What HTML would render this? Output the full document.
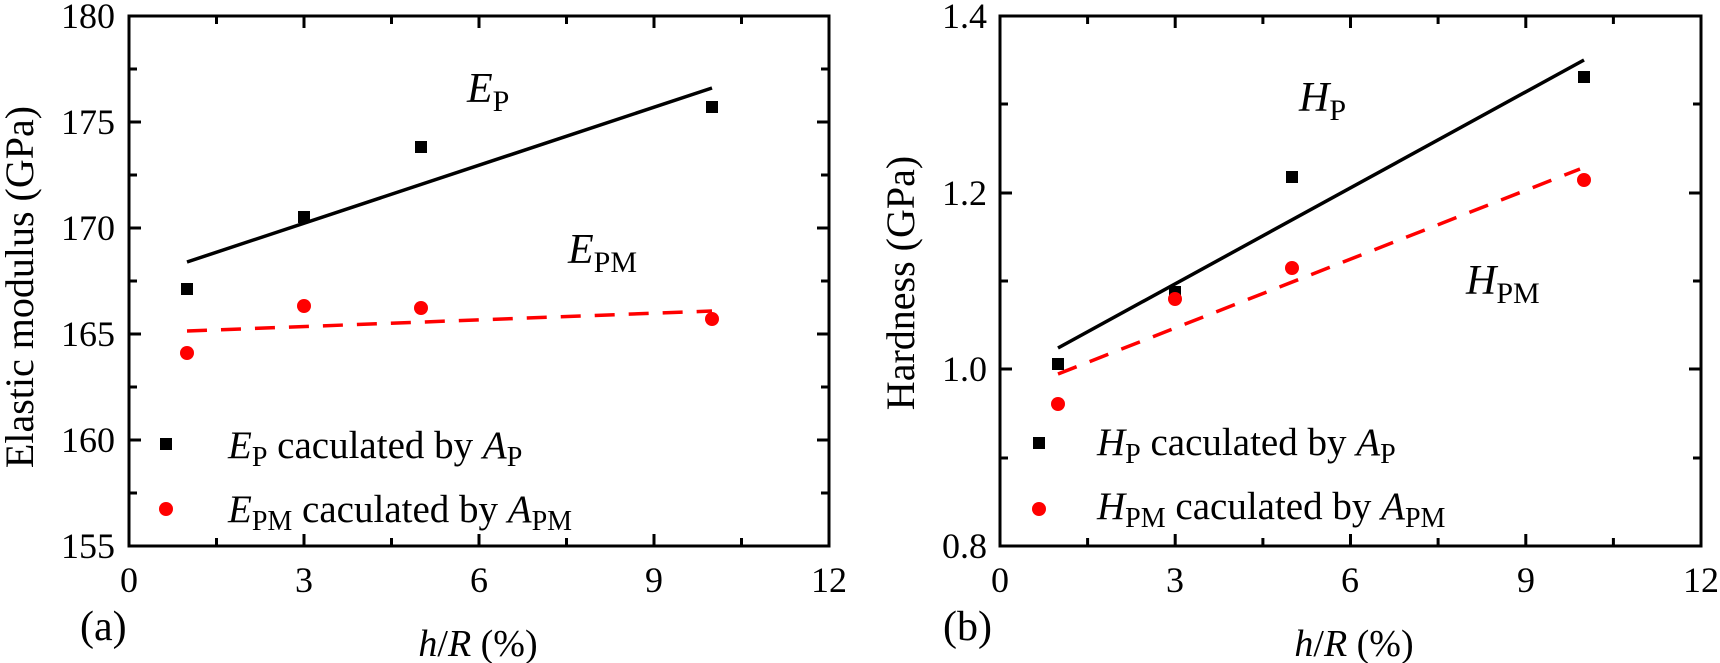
<!DOCTYPE html>
<html><head><meta charset="utf-8"><style>
html,body{margin:0;padding:0;background:#fff}
svg{display:block}
svg text{font-family:"Liberation Serif","Times New Roman",Times,"DejaVu Serif",serif;fill:#000}
</style></head><body>
<svg width="1720" height="663" viewBox="0 0 1720 663" xmlns="http://www.w3.org/2000/svg" font-family="Liberation Serif, Times New Roman, serif">
<!-- ===== Left panel ===== -->
<g stroke="#000" stroke-width="3" fill="none">
<rect x="129" y="16" width="700" height="530"/>
<path d="M216.5 546v-8 M304 546v-12 M391.5 546v-8 M479 546v-12 M566.5 546v-8 M654 546v-12 M741.5 546v-8
M216.5 16v8 M304 16v12 M391.5 16v8 M479 16v12 M566.5 16v8 M654 16v12 M741.5 16v8"/>
<path d="M129 69h8 M129 122h12 M129 175h8 M129 228h12 M129 281h8 M129 334h12 M129 387h8 M129 440h12 M129 493h8
M829 69h-8 M829 122h-12 M829 175h-8 M829 228h-12 M829 281h-8 M829 334h-12 M829 387h-8 M829 440h-12 M829 493h-8"/>
</g>
<line x1="187" y1="262" x2="712" y2="88" stroke="#000" stroke-width="3.5"/>
<line x1="187" y1="331" x2="712" y2="311" stroke="#f00" stroke-width="3.5" stroke-dasharray="20,14"/>
<g fill="#000">
<rect x="181" y="283" width="12" height="12"/><rect x="298" y="211" width="12" height="12"/>
<rect x="415" y="141" width="12" height="12"/><rect x="706" y="101" width="12" height="12"/>
<rect x="160" y="438" width="12" height="12"/>
</g>
<g fill="#f00">
<circle cx="187" cy="353" r="7"/><circle cx="304" cy="306" r="7"/><circle cx="421" cy="308" r="7"/><circle cx="712" cy="319" r="7"/>
<circle cx="166" cy="509" r="7"/>
</g>
<g font-size="36">
<text x="115" y="28" text-anchor="end">180</text>
<text x="115" y="134" text-anchor="end">175</text>
<text x="115" y="240" text-anchor="end">170</text>
<text x="115" y="346" text-anchor="end">165</text>
<text x="115" y="452" text-anchor="end">160</text>
<text x="115" y="558" text-anchor="end">155</text>
<text x="129" y="592" text-anchor="middle">0</text>
<text x="304" y="592" text-anchor="middle">3</text>
<text x="479" y="592" text-anchor="middle">6</text>
<text x="654" y="592" text-anchor="middle">9</text>
<text x="829" y="592" text-anchor="middle">12</text>
</g>
<text font-size="40" transform="translate(33,287) rotate(-90)" text-anchor="middle">Elastic modulus (GPa)</text>
<text x="80" y="640" font-size="42">(a)</text>
<text x="478" y="656" font-size="38" text-anchor="middle"><tspan font-style="italic">h</tspan>/<tspan font-style="italic">R</tspan> (%)</text>
<text x="467" y="102" font-size="42"><tspan font-style="italic">E</tspan><tspan font-size="30" dy="9">P</tspan></text>
<text x="568" y="263" font-size="42"><tspan font-style="italic">E</tspan><tspan font-size="30" dy="9">PM</tspan></text>
<text x="228" y="458" font-size="39"><tspan font-style="italic">E</tspan><tspan font-size="28" dy="8">P</tspan><tspan dy="-8"> caculated by </tspan><tspan font-style="italic">A</tspan><tspan font-size="28" dy="8">P</tspan></text>
<text x="228" y="522" font-size="39"><tspan font-style="italic">E</tspan><tspan font-size="28" dy="8">PM</tspan><tspan dy="-8"> caculated by </tspan><tspan font-style="italic">A</tspan><tspan font-size="28" dy="8">PM</tspan></text>

<!-- ===== Right panel ===== -->
<g stroke="#000" stroke-width="3" fill="none">
<rect x="1000" y="16" width="701" height="530"/>
<path d="M1087.6 546v-8 M1175.2 546v-12 M1262.9 546v-8 M1350.5 546v-12 M1438.1 546v-8 M1525.8 546v-12 M1613.4 546v-8
M1087.6 16v8 M1175.2 16v12 M1262.9 16v8 M1350.5 16v12 M1438.1 16v8 M1525.8 16v12 M1613.4 16v8"/>
<path d="M1000 104h8 M1000 193h12 M1000 281h8 M1000 369h12 M1000 458h8
M1701 104h-8 M1701 193h-12 M1701 281h-8 M1701 369h-12 M1701 458h-8"/>
</g>
<line x1="1058" y1="348" x2="1584" y2="60" stroke="#000" stroke-width="3.5"/>
<line x1="1058" y1="374" x2="1580" y2="169" stroke="#f00" stroke-width="3.5" stroke-dasharray="20,14"/>
<g fill="#000">
<rect x="1052" y="358" width="12" height="12"/><rect x="1169" y="286" width="12" height="12"/>
<rect x="1286" y="171" width="12" height="12"/><rect x="1578" y="71" width="12" height="12"/>
<rect x="1033" y="437" width="12" height="12"/>
</g>
<g fill="#f00">
<circle cx="1058" cy="404" r="7"/><circle cx="1175" cy="299" r="7"/><circle cx="1292" cy="268" r="7"/><circle cx="1584" cy="180" r="7"/>
<circle cx="1039" cy="509" r="7"/>
</g>
<g font-size="36">
<text x="987" y="28" text-anchor="end">1.4</text>
<text x="987" y="205" text-anchor="end">1.2</text>
<text x="987" y="381" text-anchor="end">1.0</text>
<text x="987" y="558" text-anchor="end">0.8</text>
<text x="1000" y="592" text-anchor="middle">0</text>
<text x="1175" y="592" text-anchor="middle">3</text>
<text x="1350" y="592" text-anchor="middle">6</text>
<text x="1526" y="592" text-anchor="middle">9</text>
<text x="1701" y="592" text-anchor="middle">12</text>
</g>
<text font-size="40" transform="translate(914,283) rotate(-90)" text-anchor="middle">Hardness (GPa)</text>
<text x="943" y="640" font-size="42">(b)</text>
<text x="1354" y="656" font-size="38" text-anchor="middle"><tspan font-style="italic">h</tspan>/<tspan font-style="italic">R</tspan> (%)</text>
<text x="1299" y="111" font-size="42"><tspan font-style="italic">H</tspan><tspan font-size="30" dy="9">P</tspan></text>
<text x="1466" y="294" font-size="42"><tspan font-style="italic">H</tspan><tspan font-size="30" dy="9">PM</tspan></text>
<text x="1097" y="455" font-size="39"><tspan font-style="italic">H</tspan><tspan font-size="28" dy="8">P</tspan><tspan dy="-8"> caculated by </tspan><tspan font-style="italic">A</tspan><tspan font-size="28" dy="8">P</tspan></text>
<text x="1097" y="519" font-size="39"><tspan font-style="italic">H</tspan><tspan font-size="28" dy="8">PM</tspan><tspan dy="-8"> caculated by </tspan><tspan font-style="italic">A</tspan><tspan font-size="28" dy="8">PM</tspan></text>
</svg>
</body></html>
